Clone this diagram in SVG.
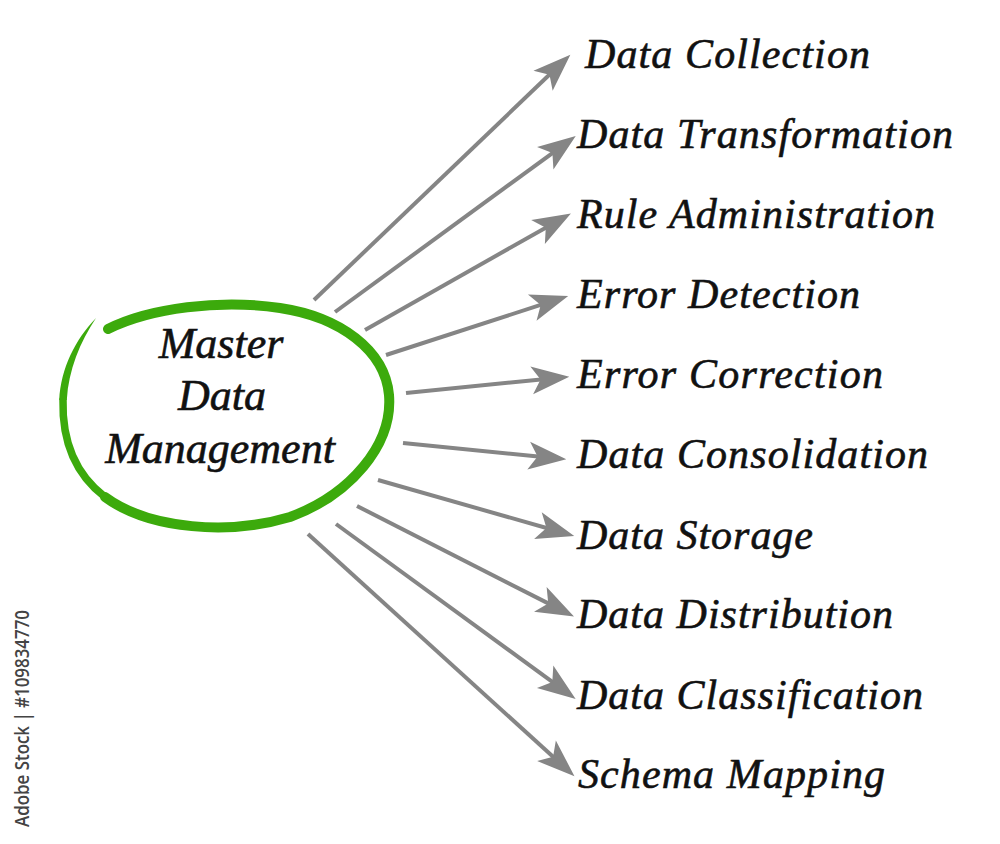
<svg xmlns="http://www.w3.org/2000/svg" width="1000" height="844" viewBox="0 0 1000 844">
  <style>
    .lbl { font-family: "Liberation Serif", "Times New Roman", serif; font-style: italic; font-size: 42px; fill: #111; stroke: #111; stroke-width: 0.6px; }
    .ctr { font-family: "Liberation Serif", "Times New Roman", serif; font-style: italic; font-size: 44px; fill: #111; stroke: #111; stroke-width: 0.6px; text-anchor: middle; }
    .arr { stroke: #858585; stroke-width: 4; fill: none; marker-end: url(#ah); }
    .ring { stroke: #3caa0c; fill: none; stroke-linecap: round; }
    .wm { font-family: "Open Sans", "DejaVu Sans", sans-serif; font-weight: 600; font-size: 20px; fill: #444; }
  </style>
  <defs>
    <marker id="ah" markerUnits="userSpaceOnUse" orient="auto" refX="0" refY="0" markerWidth="40" markerHeight="30" viewBox="-14 -13 36 26" overflow="visible">
      <path d="M21,0 L-13,-12.5 L-5,0 L-13,12.5 Z" fill="#858585"/>
    </marker>
  </defs>
  <rect width="1000" height="844" fill="#ffffff"/>

  <g id="center-node">
    <path class="ring" stroke-width="10" d="M108,329 C150,308 220,299 280,308 C340,317 385,350 389,395 C393,445 350,495 290,517 C230,535 150,530 105,497"/>
    <path class="ring" stroke-width="7.5" d="M105,497 C75,474 62,440 63,400"/>
    <path fill="#3caa0c" d="M59.2,400 C61,368 75,340 96,318 C80,342 68.5,370 66.8,400 Z"/>
    <text class="ctr" x="221" y="358">Master</text>
    <text class="ctr" x="222" y="410">Data</text>
    <text class="ctr" x="220" y="463">Management</text>
  </g>

  <g id="connectors">
    <line class="arr" x1="314" y1="300" x2="553.5" y2="70.8"/>
    <line class="arr" x1="335" y1="312" x2="556.9" y2="149.8"/>
    <line class="arr" x1="365" y1="330" x2="550.6" y2="224.9"/>
    <line class="arr" x1="386" y1="355" x2="546" y2="303.2"/>
    <line class="arr" x1="406" y1="393" x2="546.1" y2="379"/>
    <line class="arr" x1="403" y1="443" x2="543.1" y2="457"/>
    <line class="arr" x1="378" y1="480" x2="551.8" y2="529.5"/>
    <line class="arr" x1="357" y1="506" x2="553.2" y2="605.9"/>
    <line class="arr" x1="336" y1="524" x2="556.8" y2="685.2"/>
    <line class="arr" x1="308" y1="534" x2="557.2" y2="760.5"/>
  </g>

  <g id="node-1"><text class="lbl" x="585" y="68" textLength="285" lengthAdjust="spacing">Data Collection</text></g>
  <g id="node-2"><text class="lbl" x="577" y="148" textLength="376" lengthAdjust="spacing">Data Transformation</text></g>
  <g id="node-3"><text class="lbl" x="577" y="228" textLength="358" lengthAdjust="spacing">Rule Administration</text></g>
  <g id="node-4"><text class="lbl" x="577" y="308" textLength="283" lengthAdjust="spacing">Error Detection</text></g>
  <g id="node-5"><text class="lbl" x="577" y="388" textLength="306" lengthAdjust="spacing">Error Correction</text></g>
  <g id="node-6"><text class="lbl" x="577" y="468" textLength="351" lengthAdjust="spacing">Data Consolidation</text></g>
  <g id="node-7"><text class="lbl" x="577" y="549" textLength="236" lengthAdjust="spacing">Data Storage</text></g>
  <g id="node-8"><text class="lbl" x="577" y="628" textLength="316" lengthAdjust="spacing">Data Distribution</text></g>
  <g id="node-9"><text class="lbl" x="577" y="709" textLength="346" lengthAdjust="spacing">Data Classification</text></g>
  <g id="node-10"><text class="lbl" x="578" y="788" textLength="307" lengthAdjust="spacing">Schema Mapping</text></g>

  <g id="watermark">
    <text class="wm" transform="translate(29,827) rotate(-90)" textLength="217" lengthAdjust="spacingAndGlyphs">Adobe Stock | #109834770</text>
  </g>
</svg>
